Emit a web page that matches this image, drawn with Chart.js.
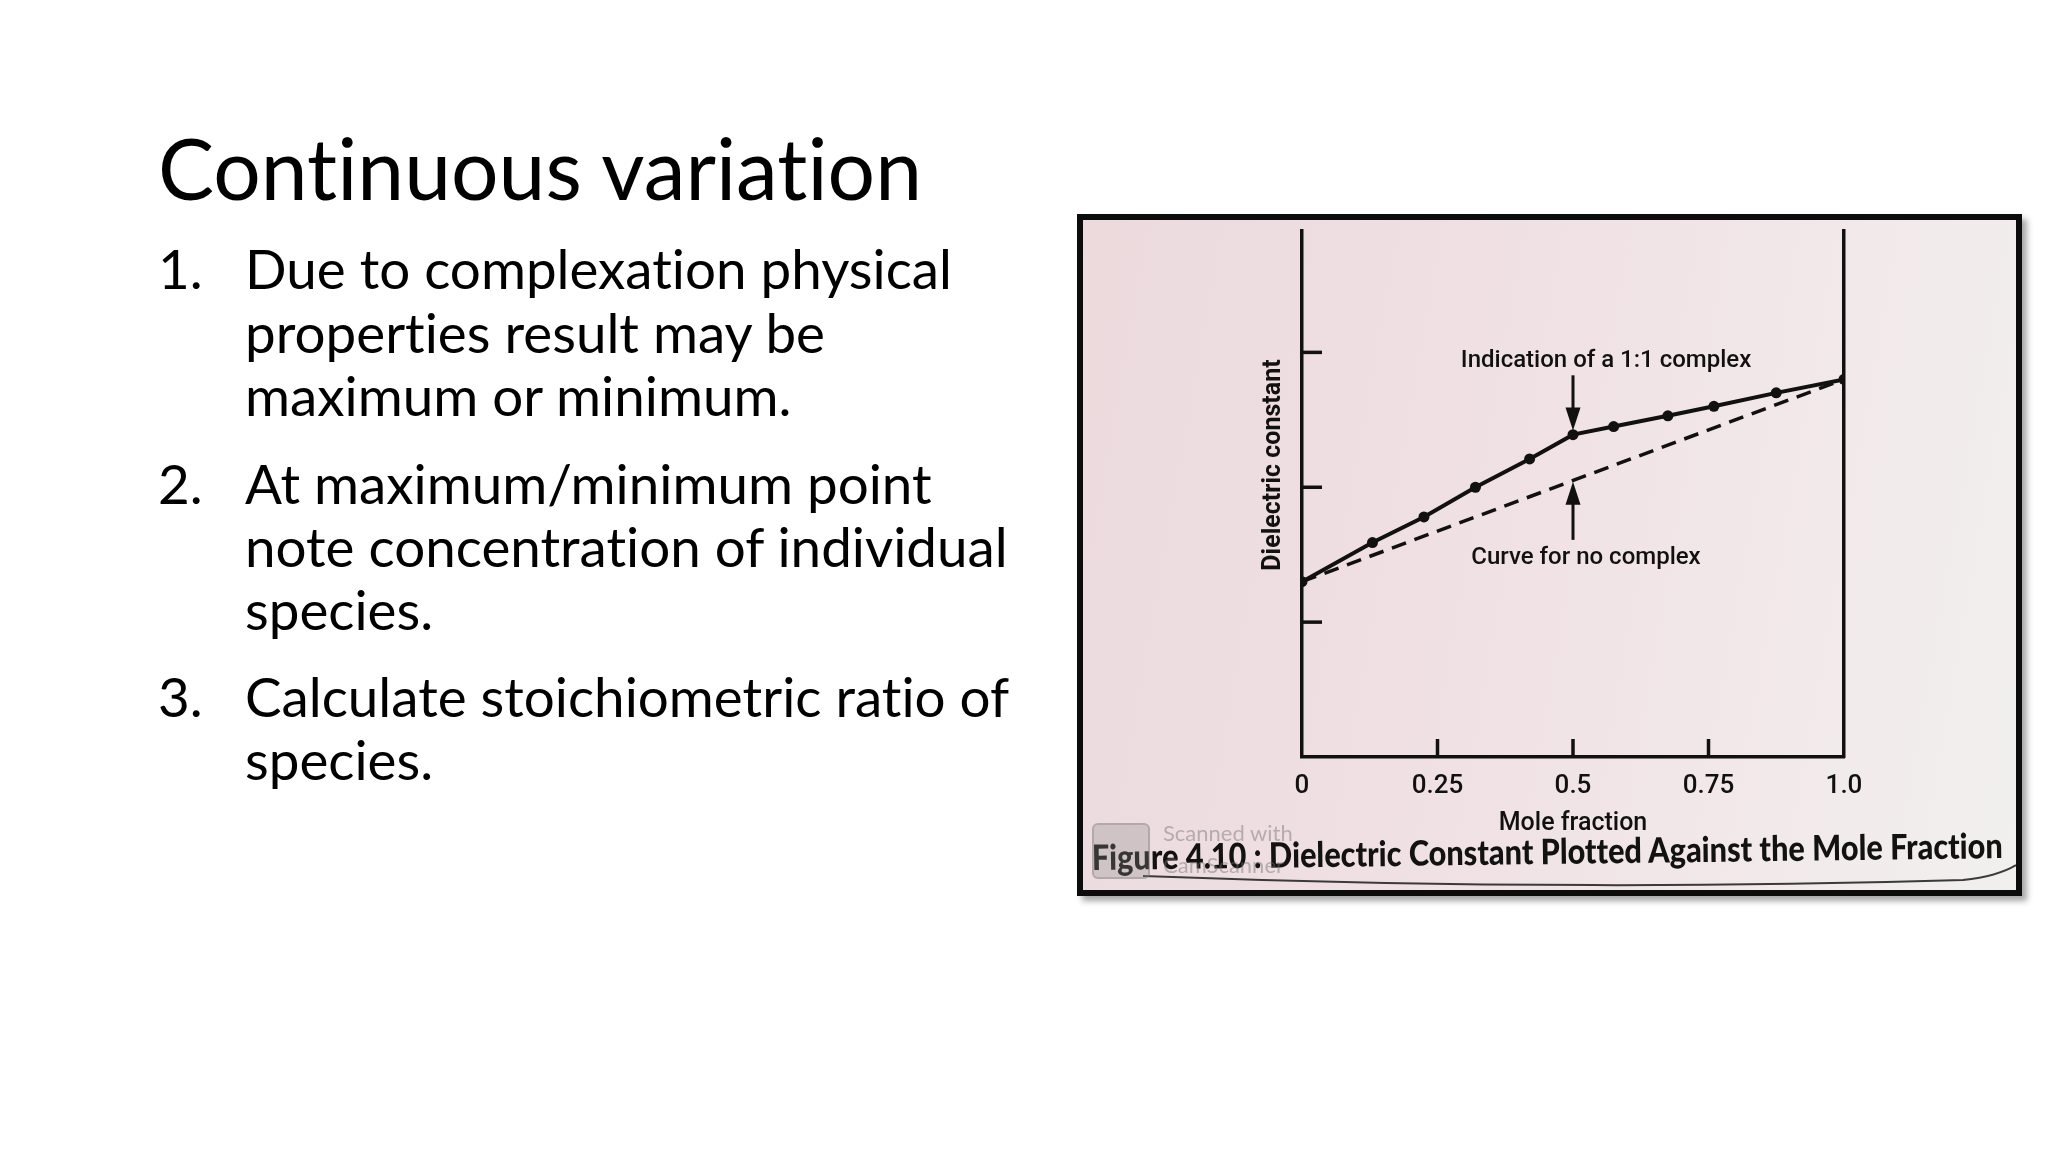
<!DOCTYPE html>
<html>
<head>
<meta charset="utf-8">
<script src="https://cdn.jsdelivr.net/npm/chart.js@4.4.0/dist/chart.umd.min.js"></script>
<style>
    html, body { margin: 0; padding: 0; background: #fff; }
    body { width: 2048px; height: 1152px; position: relative; overflow: hidden; font-family: Lato, "Open Sans", sans-serif; color: #000; font-variant-ligatures: none; }
    .t { position: absolute; white-space: nowrap; line-height: 1; transform-origin: 0 0; }
    #title { left: 158px; top: 125px; font-size: 85px; }
    .b { font-size: 54px; }
    .num { left: 158px; }
    .txt { left: 245px; }
    #scan {
        position: absolute; left: 1077px; top: 214px; width: 945px; height: 682px;
        box-sizing: border-box; border: 6px solid #0c0c0c;
        background: linear-gradient(100deg, #ecdadd 0%, #f0e1e4 45%, #f2e9ea 75%, #f1f0ee 100%);
        box-shadow: 5px 5px 6px rgba(0, 0, 0, 0.35);
    }
    #wrap { position: absolute; left: 0; top: 0; width: 933px; height: 670px; }
    #caption { position: absolute; left: 9px; top: 619px; font-size: 35px; font-weight: 900; color: #121212; white-space: nowrap; line-height: 1; transform-origin: 0 31px; }
    #edge { position: absolute; left: 0; top: 0; }
    .wm { position: absolute; white-space: nowrap; line-height: 1; font-size: 22px; color: rgba(110, 110, 110, 0.45); }
    #logo { position: absolute; left: 9px; top: 603px; width: 54px; height: 52px; border-radius: 6px; background: rgba(140, 140, 140, 0.3); border: 2px solid rgba(120, 120, 120, 0.35); }
</style>
</head>
<body>
<div id="title" class="t">Continuous variation</div>

<div class="t b num" style="top:242px">1.</div>
<div class="t b txt" id="line1" style="top:242px">Due to complexation physical</div>
<div class="t b txt" style="top:306px">properties result may be</div>
<div class="t b txt" style="top:369px">maximum or minimum.</div>

<div class="t b num" style="top:457px">2.</div>
<div class="t b txt" style="top:457px">At maximum/minimum point</div>
<div class="t b txt" style="top:520px">note concentration of individual</div>
<div class="t b txt" style="top:583px">species.</div>

<div class="t b num" style="top:670px">3.</div>
<div class="t b txt" style="top:670px">Calculate stoichiometric ratio of</div>
<div class="t b txt" style="top:733px">species.</div>

<div id="scan">
    <div id="wrap"><canvas id="chart1"></canvas></div>
    <svg id="edge" width="933" height="670">
        <path d="M 60 656 Q 480 672 880 660 Q 915 656 933 645" fill="none" stroke="#3a3a3a" stroke-width="2"/>
    </svg>
    <div id="caption">Figure 4.10 : Dielectric Constant Plotted Against the Mole Fraction</div>
    <div id="logo"></div>
    <div class="wm" style="left:80px; top:602px">Scanned with</div>
    <div class="wm" style="left:80px; top:634px">CamScanner</div>
</div>

<script>
const moleFraction = [0, 0.13, 0.225, 0.32, 0.42, 0.5, 0.575, 0.675, 0.76, 0.875, 1.0];
const dielectric = [1.3, 1.59, 1.78, 2.0, 2.21, 2.39, 2.45, 2.53, 2.6, 2.7, 2.8];
const noComplexX = [0, 1.0];
const noComplexY = [1.3, 2.8];
const xTickLabels = ['0', '0.25', '0.5', '0.75', '1.0'];
const xTickValues = [0.25, 0.5, 0.75];
const yTickValues = [1, 2, 3];
// arrows: x, from y, to y
const arrowX = [0.5, 0.5];
const arrowFrom = [2.83, 1.61];
const arrowTo = [2.42, 2.04];

const ink = '#111';
const labelFont = 'Roboto, "Liberation Sans", Arial, sans-serif';
Chart.defaults.font.family = labelFont;
Chart.defaults.color = ink;

function line(ctx, x1, y1, x2, y2) {
    ctx.beginPath();
    ctx.moveTo(x1, y1);
    ctx.lineTo(x2, y2);
    ctx.stroke();
}

// inward ticks, arrows and notes drawn over the plot
const overlay = {
    id: 'overlay',
    afterDatasetsDraw(chart) {
        const { ctx, chartArea, scales: { x, y } } = chart;
        ctx.save();
        ctx.strokeStyle = ink;
        ctx.fillStyle = ink;
        ctx.lineWidth = 3.5;
        yTickValues.forEach(v => {
            const py = y.getPixelForValue(v);
            line(ctx, chartArea.left, py, chartArea.left + 20, py);
        });
        xTickValues.forEach(v => {
            const px = x.getPixelForValue(v);
            line(ctx, px, chartArea.bottom, px, chartArea.bottom - 18);
        });

        arrowX.forEach((ax, i) => {
            const px = x.getPixelForValue(ax);
            const p1 = y.getPixelForValue(arrowFrom[i]);
            const p2 = y.getPixelForValue(arrowTo[i]);
            const dir = p2 > p1 ? 1 : -1;
            ctx.lineWidth = 3;
            line(ctx, px, p1, px, p2 - dir * 18);
            ctx.beginPath();
            ctx.moveTo(px, p2);
            ctx.lineTo(px - 7.5, p2 - dir * 23);
            ctx.lineTo(px + 7.5, p2 - dir * 23);
            ctx.closePath();
            ctx.fill();
        });

        ctx.textAlign = 'center';
        ctx.textBaseline = 'alphabetic';
        ctx.font = '500 24px ' + labelFont;
        ctx.fillText('Indication of a 1:1 complex', x.getPixelForValue(0.561), y.getPixelForValue(2.89));
        ctx.fillText('Curve for no complex', x.getPixelForValue(0.524), y.getPixelForValue(1.43));

        ctx.font = '500 25px ' + labelFont;
        ctx.fillText('Mole fraction', (chartArea.left + chartArea.right) / 2, chartArea.bottom + 73);

        ctx.translate(chartArea.left - 22, (chartArea.top + chartArea.bottom) / 2 - 29);
        ctx.rotate(-Math.PI / 2);
        ctx.font = 'bold 25px ' + labelFont;
        ctx.fillText('Dielectric constant', 0, 0);
        ctx.restore();
    }
};

function startChart() {
    const chart1 = document.getElementById('chart1');
    new Chart(chart1.getContext('2d'), {
        type: 'scatter',
        data: {
            datasets: [{
                label: 'Curve for no complex',
                data: noComplexX.map((v, i) => ({ x: v, y: noComplexY[i] })),
                showLine: true,
                borderColor: ink,
                borderWidth: 3.5,
                borderDash: [15, 9],
                pointRadius: 0,
                order: 2
            }, {
                label: 'Dielectric constant',
                data: moleFraction.map((v, i) => ({ x: v, y: dielectric[i] })),
                showLine: true,
                borderColor: ink,
                borderWidth: 4,
                pointRadius: 5.5,
                pointBackgroundColor: ink,
                pointBorderWidth: 0,
                order: 1
            }]
        },
        plugins: [overlay],
        options: {
            animation: false,
            responsive: true,
            maintainAspectRatio: false,
            layout: { padding: { left: 219, right: 172, top: 11, bottom: 73 } },
            plugins: {
                legend: { display: false },
                tooltip: { enabled: false }
            },
            scales: {
                x: {
                    type: 'linear',
                    min: 0,
                    max: 1,
                    afterFit: s => { s.height = 60; },
                    grid: { display: false, drawTicks: false },
                    border: { display: true, color: ink, width: 3.5 },
                    ticks: {
                        stepSize: 0.25,
                        autoSkip: false,
                        maxRotation: 0,
                        padding: 14,
                        font: { size: 26, weight: 500 },
                        callback: (v, i) => xTickLabels[i]
                    }
                },
                y: {
                    min: 0,
                    max: 3.9,
                    afterFit: s => { s.width = 0; },
                    grid: { display: false, drawTicks: false },
                    border: { display: true, color: ink, width: 3.5 },
                    ticks: { display: false, stepSize: 1 }
                },
                y2: {
                    position: 'right',
                    min: 0,
                    max: 3.9,
                    afterFit: s => { s.width = 0; },
                    grid: { display: false, drawTicks: false },
                    border: { display: true, color: ink, width: 3.5 },
                    ticks: { display: false }
                }
            }
        }
    });
}

document.addEventListener('DOMContentLoaded', () => {
    document.fonts.ready.then(() => {
        // squeeze the slide text to the narrow widths of the original
        const title = document.getElementById('title');
        title.style.transform = `scaleX(${764 / title.getBoundingClientRect().width})`;
        const k = 707 / document.getElementById('line1').getBoundingClientRect().width;
        document.querySelectorAll('.b').forEach(el => { el.style.transform = `scaleX(${k})`; });
        const cap = document.getElementById('caption');
        const kc = 911 / cap.getBoundingClientRect().width;
        cap.style.transform = `rotate(-0.75deg) scaleX(${kc})`;
        startChart();
    });
});
</script>
</body>
</html>
